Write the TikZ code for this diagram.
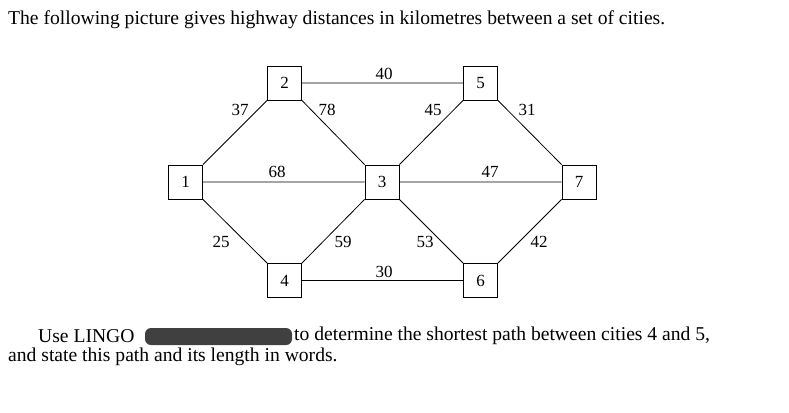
\documentclass[tikz,border=0pt]{standalone}
\usepackage{fontspec}
\setmainfont{Liberation Serif}
\begin{document}
\begin{tikzpicture}[x=1pt,y=-1pt,
  city/.style={draw,thick,minimum width=34pt,minimum height=34pt,inner sep=0pt,font=\fontsize{17}{17}\selectfont},
  lbl/.style={font=\fontsize{17}{17}\selectfont,inner sep=0pt},
  txt/.style={font=\fontsize{19.6}{21}\selectfont,anchor=west,inner sep=0pt},
  road/.style={draw,line width=0.8pt}]
\useasboundingbox (0,0) rectangle (789,412);
\node[txt] (title) at (8,20) {The following picture gives highway distances in kilometres between a set of cities.};
\node[city] (c1) at (185.5,182) {1};
\node[city] (c2) at (284.5,83) {2};
\node[city] (c3) at (382,182) {3};
\node[city] (c4) at (284.5,280.5) {4};
\node[city] (c5) at (480.5,83) {5};
\node[city] (c6) at (480.5,280.5) {6};
\node[city] (c7) at (579,182) {7};
\path[road] (c2) -- (c5) (c1) -- (c3) -- (c7) (c4) -- (c6)
  (c1.north east) -- (c2.south west) (c2.south east) -- (c3.north west)
  (c3.north east) -- (c5.south west) (c5.south east) -- (c7.north west)
  (c1.south east) -- (c4.north west) (c4.north east) -- (c3.south west)
  (c3.south east) -- (c6.north west) (c6.north east) -- (c7.south west);
\node[lbl] (l40) at (384,74) {40};
\node[lbl] (l37) at (240,110) {37};
\node[lbl] (l78) at (327,110) {78};
\node[lbl] (l45) at (433,110) {45};
\node[lbl] (l31) at (527,110) {31};
\node[lbl] (l68) at (277,172) {68};
\node[lbl] (l47) at (490,172) {47};
\node[lbl] (l25) at (221,242) {25};
\node[lbl] (l59) at (343,242) {59};
\node[lbl] (l53) at (425,242) {53};
\node[lbl] (l42) at (539,242) {42};
\node[lbl] (l30) at (384,272) {30};
\node[txt] (use) at (38,336) {Use LINGO};
\fill[black!75,rounded corners=6pt] (145,328) rectangle (292,345);
\node[txt] (rest) at (294,336) {to determine the shortest path between cities 4 and 5,};
\node[txt] (state) at (8,357) {and state this path and its length in words.};
\end{tikzpicture}
\end{document}
